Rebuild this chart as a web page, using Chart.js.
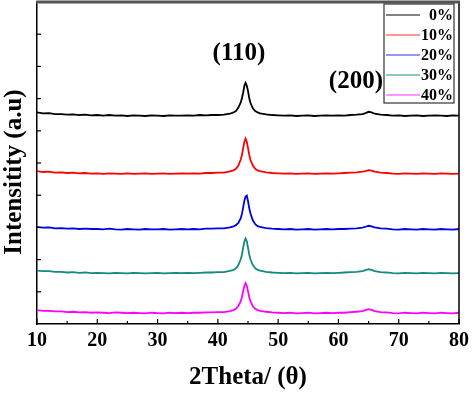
<!DOCTYPE html>
<html>
<head>
<meta charset="utf-8">
<script src="https://cdn.jsdelivr.net/npm/chart.js@4.4.1/dist/chart.umd.min.js"></script>
<style>
html,body{margin:0;padding:0;background:#fff;}
#wrap{width:474px;height:395px;position:relative;}
</style>
</head>
<body>
<div id="wrap"><canvas id="c" width="474" height="395"></canvas></div>
<script>
const twoTheta = [10,11,12,13,14,15,16,17,18,19,20,21,22,23,24,25,26,27,28,29,30,31,32,33,34,35,36,37,38,39,40,41,
42,42.6,43,43.4,43.8,44,44.2,44.4,44.6,44.8,45,45.2,45.4,45.8,46.2,46.6,47,
48,49,50,51,52,53,54,55,56,57,58,59,60,61,62,63,
64,64.5,65,65.5,66,
67,68,69,70,71,72,73,74,75,76,77,78,79,80];

const seriesLabels = ['0%','10%','20%','30%','40%'];

const s0 = [6.57,6.54,6.55,6.52,6.52,6.50,6.51,6.49,6.50,6.48,
6.49,6.47,6.49,6.47,6.48,6.46,6.48,6.47,6.46,6.48,
6.47,6.46,6.48,6.47,6.47,6.48,6.47,6.49,6.48,6.49,
6.49,6.50,
6.53,6.57,6.61,6.72,6.88,7.02,7.19,7.40,7.49,7.40,7.24,7.02,6.87,6.70,6.61,6.57,6.54,
6.51,6.49,6.48,6.47,6.48,6.46,6.47,6.48,6.46,6.47,6.48,6.47,6.48,6.47,6.49,6.50,
6.52,6.55,6.59,6.57,6.53,
6.50,6.49,6.47,6.48,6.46,6.47,6.48,6.46,6.47,6.48,6.47,6.46,6.48,6.47];

const s10 = [4.75,4.72,4.73,4.70,4.71,4.69,4.70,4.68,4.69,4.67,
4.68,4.66,4.68,4.67,4.66,4.68,4.66,4.67,4.68,4.66,
4.67,4.68,4.66,4.67,4.68,4.67,4.68,4.67,4.69,4.69,
4.70,4.70,
4.74,4.77,4.82,4.92,5.11,5.25,5.46,5.66,5.76,5.66,5.47,5.26,5.10,4.92,4.82,4.77,4.75,
4.71,4.69,4.68,4.67,4.68,4.66,4.67,4.68,4.66,4.67,4.68,4.67,4.68,4.69,4.70,4.71,
4.73,4.75,4.78,4.76,4.73,
4.70,4.69,4.67,4.66,4.68,4.67,4.66,4.68,4.67,4.66,4.68,4.67,4.66,4.67];

const s20 = [3.01,2.99,3.00,2.97,2.98,2.96,2.97,2.95,2.96,2.95,
2.95,2.94,2.96,2.94,2.93,2.95,2.94,2.93,2.95,2.94,
2.94,2.95,2.93,2.94,2.95,2.94,2.95,2.94,2.96,2.96,
2.97,2.97,
3.00,3.03,3.07,3.14,3.29,3.42,3.62,3.83,3.96,3.99,3.82,3.60,3.44,3.22,3.10,3.04,3.02,
2.98,2.96,2.95,2.94,2.95,2.93,2.94,2.95,2.93,2.94,2.95,2.94,2.95,2.95,2.96,2.97,
2.99,3.02,3.05,3.03,3.00,
2.97,2.96,2.94,2.93,2.95,2.94,2.93,2.95,2.94,2.93,2.95,2.94,2.93,2.95];

const s30 = [1.66,1.64,1.64,1.62,1.62,1.60,1.61,1.59,1.60,1.58,
1.59,1.58,1.57,1.59,1.58,1.57,1.59,1.58,1.57,1.58,
1.59,1.57,1.58,1.59,1.58,1.59,1.58,1.59,1.60,1.60,
1.61,1.61,
1.65,1.68,1.73,1.83,2.01,2.16,2.37,2.56,2.66,2.57,2.37,2.16,2.01,1.83,1.73,1.68,1.66,
1.62,1.60,1.59,1.58,1.59,1.57,1.58,1.59,1.57,1.58,1.59,1.58,1.59,1.60,1.61,1.62,
1.64,1.67,1.70,1.68,1.64,
1.61,1.60,1.58,1.57,1.59,1.58,1.57,1.59,1.58,1.57,1.59,1.58,1.57,1.58];

const s40 = [0.43,0.41,0.41,0.39,0.39,0.37,0.38,0.36,0.37,0.35,
0.36,0.35,0.34,0.36,0.35,0.34,0.35,0.34,0.33,0.35,
0.34,0.33,0.35,0.34,0.35,0.34,0.35,0.35,0.36,0.36,
0.37,0.37,
0.40,0.43,0.47,0.56,0.71,0.84,1.02,1.18,1.27,1.19,1.02,0.84,0.71,0.55,0.47,0.43,0.41,
0.38,0.36,0.35,0.34,0.35,0.33,0.34,0.35,0.33,0.34,0.35,0.34,0.35,0.35,0.37,0.38,
0.40,0.43,0.46,0.44,0.40,
0.37,0.36,0.34,0.33,0.35,0.34,0.33,0.35,0.34,0.33,0.35,0.34,0.33,0.35];

const xTicks = [10,20,30,40,50,60,70,80];
const xMinorTicks = [15,25,35,45,55,65,75];
const peakLabels = [{text:'(110)', x:43.5, y:8.39},{text:'(200)', x:62.9, y:7.52}];
const yTitle = 'Intensitity (a.u)';
const xTitle = '2Theta/ (θ)';

const colors = ['#000000','#ff0000','#0000e6','#138a80','#ff00ff'];
const legendColors = ['rgba(0,0,0,0.65)','rgba(255,0,0,0.55)','rgba(0,0,230,0.55)','rgba(19,138,128,0.65)','rgba(255,0,255,0.55)'];
const allSeries = [s0,s10,s20,s30,s40];

const SERIF = "'Liberation Serif','Times New Roman',serif";

const datasets = allSeries.map((s,i)=>({
  label: seriesLabels[i],
  data: twoTheta.map((x,j)=>({x:x,y:s[j]})),
  borderColor: colors[i],
  borderWidth: 1.8,
  pointRadius: 0,
  tension: 0,
  fill: false
}));

const framePlugin = {
  id:'frame',
  afterDraw(chart){
    const ctx = chart.ctx, a = chart.chartArea;
    const xs = chart.scales.x, ys = chart.scales.y;
    ctx.save();
    ctx.strokeStyle='#000'; ctx.lineWidth=1.5;
    ctx.beginPath(); ctx.moveTo(a.right, a.top); ctx.lineTo(a.right, a.bottom); ctx.stroke();
    ctx.strokeStyle='#555'; ctx.lineWidth=3;
    ctx.beginPath(); ctx.moveTo(a.left-1, a.top); ctx.lineTo(a.right+1, a.top); ctx.stroke();
    ctx.strokeStyle='#000'; ctx.lineWidth=1.2;
    xTicks.forEach(v=>{const p=xs.getPixelForValue(v); ctx.beginPath(); ctx.moveTo(p,a.bottom); ctx.lineTo(p,a.bottom-5); ctx.stroke();});
    xMinorTicks.forEach(v=>{const p=xs.getPixelForValue(v); ctx.beginPath(); ctx.moveTo(p,a.bottom); ctx.lineTo(p,a.bottom-3); ctx.stroke();});
    ys.ticks.forEach(t=>{const p=ys.getPixelForValue(t.value); if(t.value<=0||t.value>=10) return; ctx.beginPath(); ctx.moveTo(a.left,p); ctx.lineTo(a.left+4,p); ctx.stroke();});
    // y title
    ctx.fillStyle='#000'; ctx.font='bold 25px '+SERIF; ctx.textAlign='center'; ctx.textBaseline='middle';
    ctx.save();
    ctx.translate(15, (a.top+a.bottom)/2 + 9);
    ctx.rotate(-Math.PI/2);
    ctx.fillText(yTitle, 0, 0);
    ctx.restore();
    // peak labels
    peakLabels.forEach(l=>{ctx.fillText(l.text, xs.getPixelForValue(l.x), ys.getPixelForValue(l.y));});
    // legend
    const lx0 = a.right-75, ly0 = a.top+2, lw = 70, lh = 99;
    ctx.fillStyle='#fff'; ctx.fillRect(lx0,ly0,lw,lh);
    ctx.strokeStyle='#333'; ctx.lineWidth=1.2; ctx.strokeRect(lx0,ly0,lw,lh);
    ctx.font='bold 16px '+SERIF; ctx.textAlign='right'; ctx.textBaseline='middle';
    chart.data.datasets.forEach((d,i)=>{
      const yy = ly0+11+i*20;
      ctx.strokeStyle=legendColors[i]; ctx.lineWidth=1.5;
      ctx.beginPath(); ctx.moveTo(lx0+2,yy); ctx.lineTo(lx0+36,yy); ctx.stroke();
      ctx.fillStyle='#000'; ctx.fillText(d.label, lx0+lw-1, yy+1);
    });
    ctx.restore();
  }
};

new Chart(document.getElementById('c'), {
  type:'line',
  data:{datasets},
  options:{
    responsive:false,
    animation:false,
    events:[],
    layout:{padding:{top:2,right:11,left:0,bottom:0}},
    plugins:{legend:{display:false},tooltip:{enabled:false}},
    scales:{
      x:{
        type:'linear', min:10, max:80,
        afterBuildTicks(s){ s.ticks = xTicks.map(v=>({value:v})); },
        afterFit(s){ s.height = 71; },
        grid:{display:true, drawOnChartArea:false, drawTicks:false},
        border:{display:true, color:'#000', width:1.5},
        ticks:{color:'#000', padding:5, font:{family:SERIF, size:20, weight:'bold'}, maxRotation:0, autoSkip:false},
        title:{display:true, text:xTitle, color:'#000', font:{family:SERIF, size:25, weight:'bold'}, padding:{top:0,bottom:2}}
      },
      y:{
        type:'linear', min:0, max:10,
        ticks:{display:false, stepSize:1},
        afterFit(s){ s.width = 37; },
        grid:{display:true, drawOnChartArea:false, drawTicks:false},
        border:{display:true, color:'#000', width:1.5},
        title:{display:false}
      }
    }
  },
  plugins:[framePlugin]
});
</script>
</body>
</html>
